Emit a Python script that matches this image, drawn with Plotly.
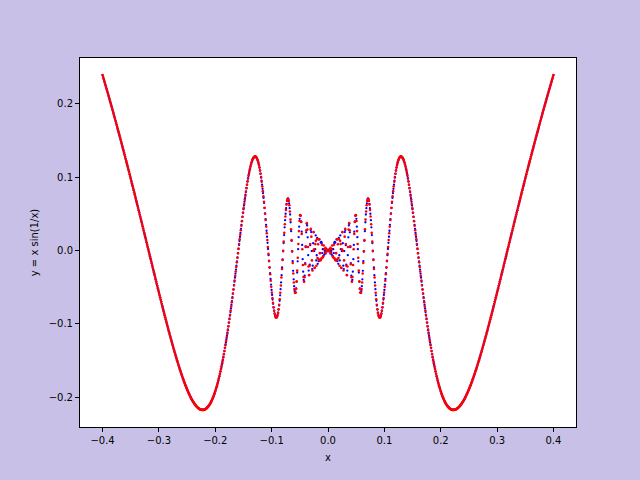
import numpy as np
import plotly.graph_objects as go

# Function shown by the axis label: y = x sin(1/x), sampled on two grids
x_blue = np.linspace(-0.4, 0.4, 900)
x_red = np.linspace(-0.4, 0.4, 800)
x_ticks = [-0.4, -0.3, -0.2, -0.1, 0.0, 0.1, 0.2, 0.3, 0.4]
y_ticks = [-0.2, -0.1, 0.0, 0.1, 0.2]


def f(x):
    with np.errstate(divide="ignore", invalid="ignore"):
        y = x * np.sin(1.0 / x)
    return np.where(x == 0, 0.0, y)


y_blue = f(x_blue)
y_red = f(x_red)

fig = go.Figure()
fig.add_trace(go.Scatter(x=x_blue, y=y_blue, mode="markers",
                         marker=dict(color="blue", size=2.3, line=dict(width=0)),
                         showlegend=False))
fig.add_trace(go.Scatter(x=x_red, y=y_red, mode="markers",
                         marker=dict(color="red", size=2.6, line=dict(width=0)),
                         showlegend=False))

axis_common = dict(showgrid=False, zeroline=False, showline=True, linecolor="black",
                   linewidth=1, mirror=True, ticks="outside", ticklen=4, tickcolor="black",
                   tickfont=dict(family="DejaVu Sans", size=10, color="black"),
                   tickformat=".1f")
fig.update_layout(
    width=640, height=480,
    paper_bgcolor="#c8c0e6", plot_bgcolor="white",
    margin=dict(l=80, r=64, t=58, b=53),
    font=dict(family="DejaVu Sans", size=10, color="black"),
    xaxis=dict(range=[-0.44, 0.44], tickvals=x_ticks,
               title=dict(text="x", standoff=8, font=dict(size=10)), **axis_common),
    yaxis=dict(range=[-0.2405, 0.2627], tickvals=y_ticks,
               title=dict(text="y = x sin(1/x)", standoff=8, font=dict(size=10)), **axis_common),
)
fig.write_html("out.html", config={"displayModeBar": False},
               post_script="document.body.style.margin='0';document.body.style.background='#c8c0e6';")
